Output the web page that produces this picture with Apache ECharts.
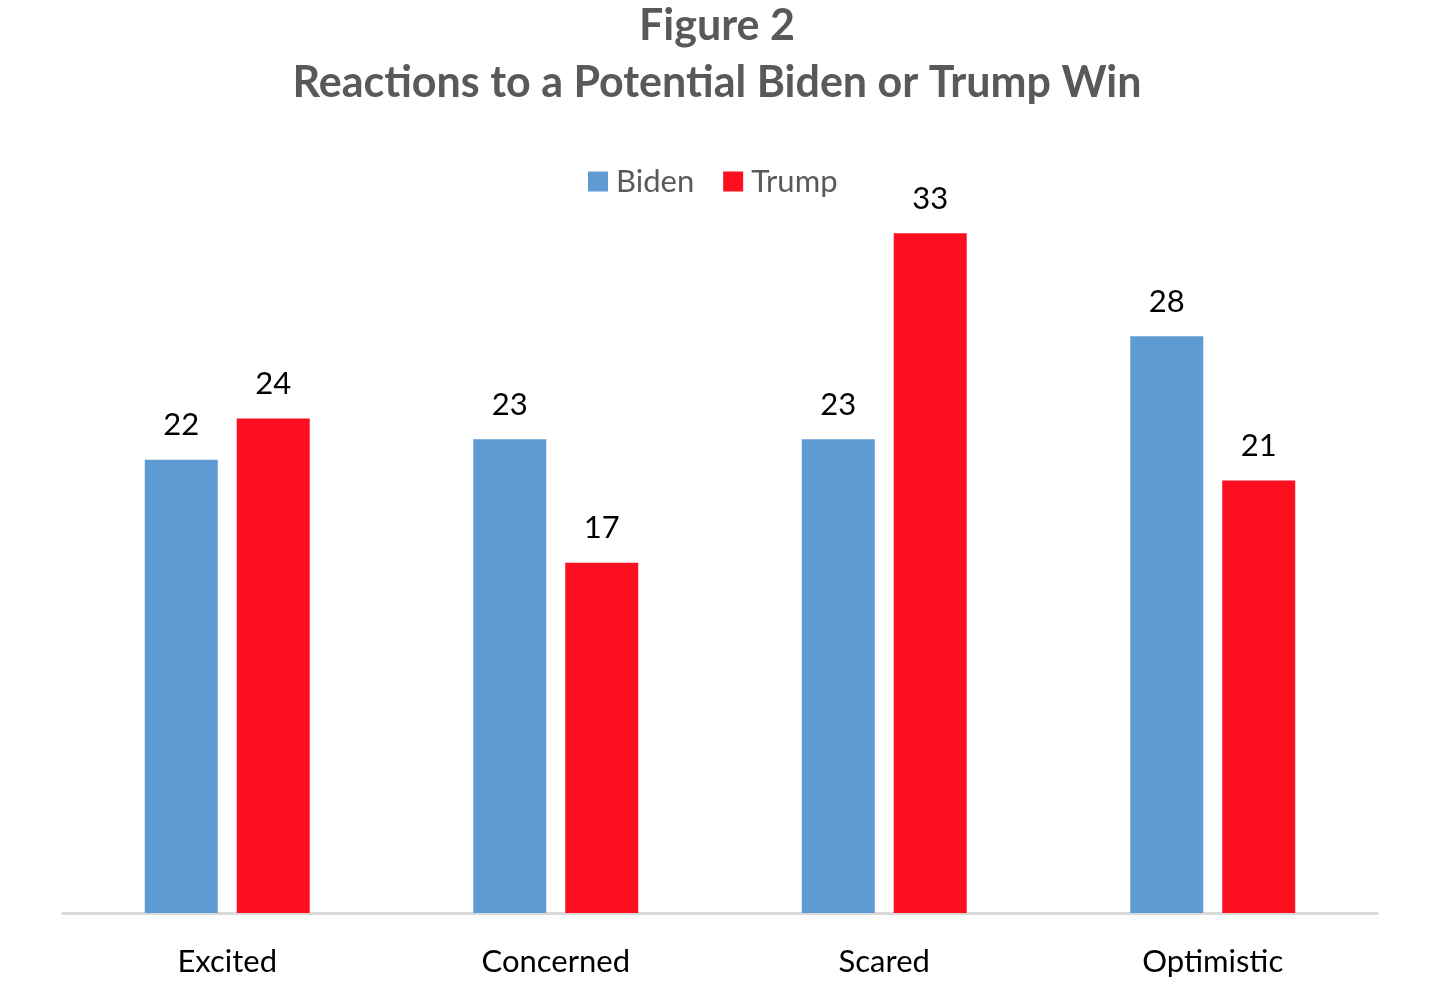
<!DOCTYPE html>
<html>
<head>
<meta charset="utf-8">
<script src="https://cdn.jsdelivr.net/npm/echarts@6/dist/echarts.min.js"></script>
<style>html,body{margin:0;padding:0;background:#fff}#c{width:1434px;height:1004px}</style>
</head>
<body>
<div id="c"></div>
<script>
const categories = ['Excited', 'Concerned', 'Scared', 'Optimistic'];
const bidenValues = [22, 23, 23, 28];
const trumpValues = [24, 17, 33, 21];
const seriesNames = ['Biden', 'Trump'];
const titleLines = ['Figure 2', 'Reactions to a Potential Biden or Trump Win'];

const FONT = 'Lato';
const chart = echarts.init(document.getElementById('c'));
const labelStyle = {show: true, position: 'top', distance: 19, color: '#000', fontSize: 31, fontFamily: FONT};
chart.setOption({
  animation: false,
  title: {
    text: titleLines.join('\n'),
    left: 'center', top: -7,
    textStyle: {fontFamily: FONT, fontWeight: 'bold', fontSize: 43, lineHeight: 57, color: '#595959'}
  },
  legend: {
    top: 161, left: 583,
    itemWidth: 20, itemHeight: 20, itemGap: 29,
    icon: 'rect',
    textStyle: {fontFamily: FONT, fontSize: 31, color: '#595959', padding: [0, 0, 0, 3]}
  },
  grid: {left: 63, right: 57, top: 192, bottom: 91},
  xAxis: {
    type: 'category', data: categories,
    axisLine: {lineStyle: {color: '#d9d9d9', width: 3}},
    axisTick: {show: false},
    axisLabel: {color: '#000', fontSize: 31, fontFamily: FONT, margin: 33}
  },
  yAxis: {type: 'value', min: 0, max: 35, show: false, splitLine: {show: false}},
  series: [
    {name: seriesNames[0], type: 'bar', data: bidenValues, barWidth: 73, barGap: '26%',
     itemStyle: {color: '#5F9BD3'}, label: labelStyle},
    {name: seriesNames[1], type: 'bar', data: trumpValues, barWidth: 73, barGap: '26%',
     itemStyle: {color: '#FC0F1F'}, label: labelStyle}
  ]
});
</script>
</body>
</html>
